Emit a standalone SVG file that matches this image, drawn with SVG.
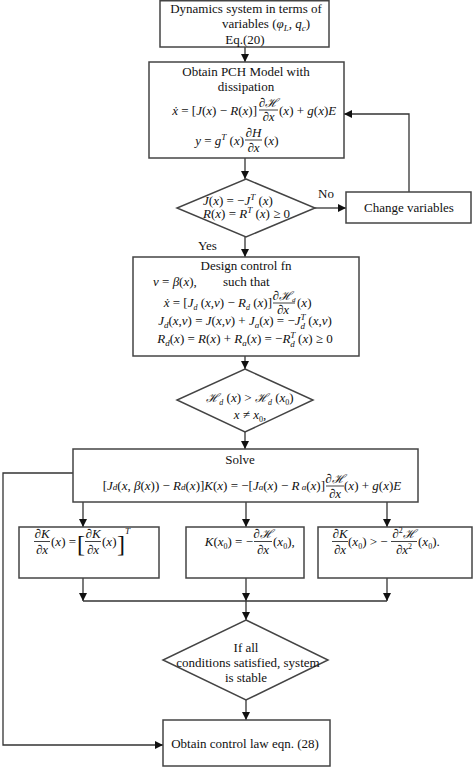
<svg xmlns="http://www.w3.org/2000/svg" width="474" height="767" viewBox="0 0 474 767">
<style>
.box{fill:#fff;stroke:#444;stroke-width:1.5}
.t{font-family:"Liberation Serif","Times New Roman",serif;font-size:13px;fill:#111}
.m{text-anchor:middle}
.e{text-anchor:end}
.i{font-style:italic}
.h{font-style:italic;font-size:12px}
.bar{stroke:#111;stroke-width:0.8}
.c{fill:none;stroke:#333;stroke-width:1.3}
</style>
<defs>
<marker id="ah" viewBox="0 0 10 10" refX="10" refY="5" markerWidth="8" markerHeight="8" markerUnits="userSpaceOnUse" orient="auto">
<path d="M0,0 L10,5 L0,10 z" fill="#111"/>
</marker>
</defs>
<rect width="474" height="767" fill="#fff"/>

<g id="connectors">
<line class="c" x1="245" y1="47" x2="245" y2="62" marker-end="url(#ah)"/>
<line class="c" x1="245" y1="158" x2="245" y2="179" marker-end="url(#ah)"/>
<line class="c" x1="315" y1="208" x2="346" y2="208" marker-end="url(#ah)"/>
<polyline class="c" points="409,192 409,114 344,114" marker-end="url(#ah)"/>
<line class="c" x1="245" y1="237" x2="245" y2="257" marker-end="url(#ah)"/>
<line class="c" x1="245" y1="356" x2="245" y2="369" marker-end="url(#ah)"/>
<line class="c" x1="245" y1="432" x2="245" y2="449" marker-end="url(#ah)"/>
<line class="c" x1="83" y1="502" x2="83" y2="527" marker-end="url(#ah)"/>
<line class="c" x1="246" y1="502" x2="246" y2="527" marker-end="url(#ah)"/>
<line class="c" x1="387" y1="502" x2="387" y2="527" marker-end="url(#ah)"/>
<line class="c" x1="83" y1="578" x2="83" y2="601" marker-end="url(#ah)"/>
<line class="c" x1="246" y1="578" x2="246" y2="601" marker-end="url(#ah)"/>
<line class="c" x1="387" y1="578" x2="387" y2="601" marker-end="url(#ah)"/>
<line class="c" x1="83" y1="601" x2="387" y2="601"/>
<line class="c" x1="246" y1="601" x2="246" y2="620" marker-end="url(#ah)"/>
<line class="c" x1="246" y1="700" x2="246" y2="720" marker-end="url(#ah)"/>
<polyline class="c" points="73,473 3,473 3,745 163,745" marker-end="url(#ah)"/>
</g>

<g id="n1">
<rect class="box" x="160" y="0.75" width="169" height="46.25"/>
<text class="t m" x="246" y="13">Dynamics system in terms of</text>
<text class="t" x="222" y="28">variables (<tspan class="i">φ</tspan><tspan class="i" font-size="9" dy="3">L</tspan><tspan dy="-3">, </tspan><tspan class="i">q</tspan><tspan class="i" font-size="9" dy="3">c</tspan><tspan dy="-3">)</tspan></text>
<text class="t m" x="245" y="44">Eq.(20)</text>
</g>

<g id="n2">
<rect class="box" x="149" y="62" width="195" height="96"/>
<text class="t m" x="246" y="76">Obtain PCH Model with</text>
<text class="t m" x="246" y="91">dissipation</text>
<text class="t e" x="257" y="114.5"><tspan class="i">ẋ</tspan> = [<tspan class="i">J</tspan>(<tspan class="i">x</tspan>) − <tspan class="i">R</tspan>(<tspan class="i">x</tspan>)]</text>
<text class="t m" x="268.5" y="106.5">∂<tspan class="h">ℋ</tspan></text>
<line class="bar" x1="259" y1="110" x2="278" y2="110"/>
<text class="t m" x="268.5" y="121">∂<tspan class="i">x</tspan></text>
<text class="t" x="279" y="114.5">(<tspan class="i">x</tspan>) + <tspan class="i">g</tspan>(<tspan class="i">x</tspan>)<tspan class="i">E</tspan></text>
<text class="t e" x="244" y="145"><tspan class="i">y</tspan> = <tspan class="i">g</tspan><tspan class="i" font-size="9" dy="-5">T</tspan><tspan dy="5"> (</tspan><tspan class="i">x</tspan>)</text>
<text class="t m" x="253.5" y="136.5">∂<tspan class="i">H</tspan></text>
<line class="bar" x1="245" y1="140" x2="262" y2="140"/>
<text class="t m" x="253.5" y="152">∂<tspan class="i">x</tspan></text>
<text class="t" x="264" y="145">(<tspan class="i">x</tspan>)</text>
</g>

<g id="n3">
<polygon class="box" points="246,179 315,208 246,237 177,208"/>
<text class="t" x="203" y="205"><tspan class="i">J</tspan>(<tspan class="i">x</tspan>) = −<tspan class="i">J</tspan><tspan class="i" font-size="9" dy="-5">T</tspan><tspan dy="5"> (</tspan><tspan class="i">x</tspan>)</text>
<text class="t" x="203" y="218"><tspan class="i">R</tspan>(<tspan class="i">x</tspan>) = <tspan class="i">R</tspan><tspan class="i" font-size="9" dy="-5">T</tspan><tspan dy="5"> (</tspan><tspan class="i">x</tspan>) ≥ 0</text>
<text class="t" x="318" y="198">No</text>
<text class="t" x="198" y="250">Yes</text>
</g>

<g id="n4">
<rect class="box" x="346" y="192" width="125" height="31"/>
<text class="t m" x="409" y="212">Change variables</text>
</g>

<g id="n5">
<rect class="box" x="133" y="257" width="226" height="99"/>
<text class="t m" x="246" y="270">Design control fn</text>
<text class="t" x="153" y="286"><tspan class="i">ν</tspan> = <tspan class="i">β</tspan>(<tspan class="i">x</tspan>),</text>
<text class="t" x="223" y="286">such that</text>
<text class="t e" x="272" y="307"><tspan class="i">ẋ</tspan> = [<tspan class="i">J</tspan><tspan class="i" font-size="8" dy="3">d</tspan><tspan dy="-3"> (</tspan><tspan class="i">x</tspan>,<tspan class="i">ν</tspan>) − <tspan class="i">R</tspan><tspan class="i" font-size="8" dy="3">d</tspan><tspan dy="-3"> (</tspan><tspan class="i">x</tspan>)]</text>
<text class="t m" x="284" y="299.5">∂<tspan class="h">ℋ</tspan><tspan class="i" font-size="7" dy="2">d</tspan></text>
<line class="bar" x1="273" y1="303" x2="295" y2="303"/>
<text class="t m" x="283" y="313.5">∂<tspan class="i">x</tspan></text>
<text class="t" x="297" y="307">(<tspan class="i">x</tspan>)</text>
<text class="t m" x="245" y="325"><tspan class="i">J</tspan><tspan class="i" font-size="9" dy="3">d</tspan><tspan dy="-3">(</tspan><tspan class="i">x</tspan>,<tspan class="i">ν</tspan>) = <tspan class="i">J</tspan>(<tspan class="i">x</tspan>,<tspan class="i">ν</tspan>) + <tspan class="i">J</tspan><tspan class="i" font-size="9" dy="3">a</tspan><tspan dy="-3">(</tspan><tspan class="i">x</tspan>) = −<tspan class="i">J</tspan><tspan class="i" font-size="9" dy="-5">T</tspan><tspan class="i" font-size="9" dx="-5" dy="9">d</tspan><tspan dy="-4"> (</tspan><tspan class="i">x</tspan>,<tspan class="i">ν</tspan>)</text>
<text class="t m" x="245" y="343"><tspan class="i">R</tspan><tspan class="i" font-size="9" dy="3">d</tspan><tspan dy="-3">(</tspan><tspan class="i">x</tspan>) = <tspan class="i">R</tspan>(<tspan class="i">x</tspan>) + <tspan class="i">R</tspan><tspan class="i" font-size="9" dy="3">a</tspan><tspan dy="-3">(</tspan><tspan class="i">x</tspan>) = −<tspan class="i">R</tspan><tspan class="i" font-size="9" dy="-5">T</tspan><tspan class="i" font-size="9" dx="-5" dy="9">d</tspan><tspan dy="-4"> (</tspan><tspan class="i">x</tspan>) ≥ 0</text>
</g>

<g id="n6">
<polygon class="box" points="245,369 313,400 245,432 177,400"/>
<text class="t m" x="250" y="402"><tspan class="h">ℋ</tspan><tspan class="i" font-size="8" dy="3">d</tspan><tspan dy="-3"> (</tspan><tspan class="i">x</tspan>) &gt; <tspan class="h">ℋ</tspan><tspan class="i" font-size="8" dy="3">d</tspan><tspan dy="-3"> (</tspan><tspan class="i">x</tspan><tspan font-size="8" dy="3">0</tspan><tspan dy="-3">)</tspan></text>
<text class="t m" x="250" y="419"><tspan class="i">x</tspan> ≠ <tspan class="i">x</tspan><tspan font-size="8" dy="3">0</tspan><tspan dy="-3">,</tspan></text>
</g>

<g id="n7">
<rect class="box" x="73" y="449" width="345" height="53"/>
<text class="t m" x="240" y="464">Solve</text>
<text class="t e" x="325" y="490">[<tspan class="i">J</tspan><tspan class="i" font-size="9">d</tspan>(<tspan class="i">x</tspan>, <tspan class="i">β</tspan>(<tspan class="i">x</tspan>)) − <tspan class="i">R</tspan><tspan class="i" font-size="9">d</tspan>(<tspan class="i">x</tspan>)]<tspan class="i">K</tspan>(<tspan class="i">x</tspan>) = −[<tspan class="i">J</tspan><tspan class="i" font-size="9">a</tspan>(<tspan class="i">x</tspan>) − <tspan class="i">R</tspan><tspan class="i" font-size="9"> a</tspan>(<tspan class="i">x</tspan>)]</text>
<text class="t m" x="335" y="482.5">∂<tspan class="h">ℋ</tspan></text>
<line class="bar" x1="326" y1="486" x2="344" y2="486"/>
<text class="t m" x="335" y="497.5">∂<tspan class="i">x</tspan></text>
<text class="t" x="344" y="490">(<tspan class="i">x</tspan>) + <tspan class="i">g</tspan>(<tspan class="i">x</tspan>)<tspan class="i">E</tspan></text>
</g>

<g id="n8">
<rect class="box" x="19" y="527" width="140" height="51"/>
<text class="t m" x="42" y="538">∂<tspan class="i">K</tspan></text>
<line class="bar" x1="34" y1="541.5" x2="50" y2="541.5"/>
<text class="t m" x="42" y="554">∂<tspan class="i">x</tspan></text>
<text class="t" x="51" y="546">(<tspan class="i">x</tspan>) =</text>
<text class="t" x="77" y="552" style="font-size:24px">[</text>
<text class="t m" x="93" y="538">∂<tspan class="i">K</tspan></text>
<line class="bar" x1="85" y1="541.5" x2="101" y2="541.5"/>
<text class="t m" x="93" y="554">∂<tspan class="i">x</tspan></text>
<text class="t" x="102" y="546">(<tspan class="i">x</tspan>)</text>
<text class="t" x="117" y="552" style="font-size:24px">]</text>
<text class="t i" x="125" y="534" style="font-size:9px">T</text>
</g>

<g id="n9">
<rect class="box" x="186" y="527" width="118" height="51"/>
<text class="t e" x="253" y="546"><tspan class="i">K</tspan>(<tspan class="i">x</tspan><tspan font-size="8" dy="3">0</tspan><tspan dy="-3">) = −</tspan></text>
<text class="t m" x="263" y="537.5">∂<tspan class="h">ℋ</tspan></text>
<line class="bar" x1="254" y1="541.5" x2="272" y2="541.5"/>
<text class="t m" x="263" y="554">∂<tspan class="i">x</tspan></text>
<text class="t" x="273" y="546">(<tspan class="i">x</tspan><tspan font-size="8" dy="3">0</tspan><tspan dy="-3">),</tspan></text>
</g>

<g id="n10">
<rect class="box" x="318" y="527" width="154" height="51"/>
<text class="t m" x="340" y="538">∂<tspan class="i">K</tspan></text>
<line class="bar" x1="332" y1="541.5" x2="348" y2="541.5"/>
<text class="t m" x="340" y="554">∂<tspan class="i">x</tspan></text>
<text class="t" x="348" y="546">(<tspan class="i">x</tspan><tspan font-size="8" dy="3">0</tspan><tspan dy="-3">) &gt; −</tspan></text>
<text class="t m" x="404" y="537.5">∂<tspan font-size="8" dy="-5">2</tspan><tspan class="h" dy="5">ℋ</tspan></text>
<line class="bar" x1="391" y1="541.5" x2="417" y2="541.5"/>
<text class="t m" x="404" y="554">∂<tspan class="i">x</tspan><tspan font-size="8" dy="-5">2</tspan></text>
<text class="t" x="418" y="546">(<tspan class="i">x</tspan><tspan font-size="8" dy="3">0</tspan><tspan dy="-3">).</tspan></text>
</g>

<g id="n11">
<polygon class="box" points="246,620 328,660 246,700 163,660"/>
<text class="t m" x="246" y="652">If all</text>
<text class="t m" x="248" y="667">conditions satisfied, system</text>
<text class="t m" x="246" y="682">is stable</text>
</g>

<g id="n12">
<rect class="box" x="163" y="720" width="167" height="46"/>
<text class="t m" x="245" y="748">Obtain control law eqn. (28)</text>
</g>
</svg>
